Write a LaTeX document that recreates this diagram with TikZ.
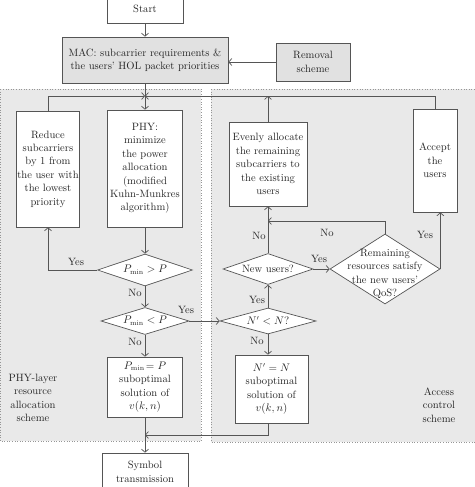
\documentclass[tikz,border=0pt]{standalone}
\usepackage{amsmath}
\usepackage{amssymb}
\usetikzlibrary{shapes.geometric,arrows.meta}
\definecolor{linegray}{RGB}{85,85,85}
\definecolor{regiongray}{RGB}{233,233,233}
\definecolor{macgray}{RGB}{225,225,225}
\definecolor{dotgray}{RGB}{150,150,150}

\begin{document}
\begin{tikzpicture}[x=1pt,y=-1pt,
  every node/.style={font=\fontsize{10.6}{13.4}\selectfont, text=black!85},
  box/.style={draw=linegray, line width=0.7pt, fill=white, align=center, inner sep=1pt},
  decision/.style={diamond, draw=linegray, line width=0.7pt, fill=white, inner sep=0pt, aspect=3},
  region/.style={draw=dotgray, dotted, line width=0.6pt, fill=regiongray},
  arr/.style={-{Straight Barb[length=3pt,width=7pt]}, draw=linegray, line width=0.7pt}]
  \useasboundingbox (0,0) rectangle (474,487);
  \fill[white] (0,0) rectangle (474,487);
  % the two schemes
  \draw[region] (0,89) rectangle (201,441);
  \draw[region] (211,89) rectangle (476,442);
  \node[align=center] (phylabel) at (33,398) {PHY-layer\\resource\\allocation\\scheme};
  \node[align=center] (acclabel) at (439,405) {Access\\control\\scheme};

  \node[box, minimum width=76pt, minimum height=28pt] (start) at (145,9) {Start};
  \node[box, fill=macgray, minimum width=166pt, minimum height=46pt] (mac) at (145,60)
    {MAC: subcarrier requirements \&\\the users' HOL packet priorities};
  \node[box, fill=macgray, minimum width=74pt, minimum height=38pt] (removal) at (313,62)
    {Removal\\scheme};

  \node[box, minimum width=62pt, minimum height=116pt] (reduce) at (48,169)
    {Reduce\\subcarriers\\by 1 from\\the user with\\the lowest\\priority};
  \node[box, minimum width=75pt, minimum height=117pt] (phy) at (145,168.5)
    {PHY:\\minimize\\the power\\allocation\\(modified\\Kuhn-Munkres\\algorithm)};
  \node[decision, minimum width=95pt, minimum height=32pt] (pgt) at (145,270) {$P_{\min}> P$};
  \node[decision, minimum width=88pt, minimum height=27pt] (plt) at (145,321) {$P_{\min}< P$};
  \node[box, minimum width=75pt, minimum height=60pt] (pbox) at (145,387)
    {$P_{\min}\!= P$\\suboptimal\\solution of\\$v(k,n)$};
  \node[box, minimum width=86pt, minimum height=38pt] (symbol) at (145,472)
    {Symbol\\transmission};

  \node[box, minimum width=78pt, minimum height=84pt] (evenly) at (268,164)
    {Evenly allocate\\the remaining\\subcarriers to\\the existing\\users};
  \node[box, minimum width=44pt, minimum height=103pt] (accept) at (435,160.5)
    {Accept\\the\\users};
  \node[decision, minimum width=90pt, minimum height=31pt] (newu) at (268,269) {New users?};
  \node[decision, minimum width=110pt, minimum height=70pt] (rem) at (385,269) {};
  \node[align=center, inner sep=0pt] (remtext) at (385,274)
    {Remaining\\resources satisfy\\the new users'\\QoS?};
  \node[decision, minimum width=96pt, minimum height=26pt] (nlt) at (268,321) {$N' < N?$};
  \node[box, minimum width=73pt, minimum height=68pt] (nbox) at (271.5,389)
    {$N' = N$\\suboptimal\\solution of\\$v(k,n)$};

  \coordinate (jtop) at (145,96);
  \coordinate (jbot) at (145,435);
  \coordinate (jrem) at (268,221);

  \draw[arr] (start) -- (mac);
  \draw[arr] (removal.west) -- (removal.west -| mac.east);
  \draw[arr] (mac) -- (phy);
  \draw[arr] (reduce.north) |- (jtop);
  \draw[arr] (accept.north) |- (jtop);
  \draw[arr] (evenly.north) -- (evenly.north |- jtop);
  \draw[arr] (phy) -- (pgt);
  \draw[arr] (pgt.west) -| (reduce.south);
  \draw[arr] (pgt) -- (plt);
  \draw[arr] (plt.east) -- (nlt.west);
  \draw[arr] (plt) -- (pbox);
  \draw[arr] (pbox) -- (symbol);
  \draw[arr] (nlt.south |- nbox.south) |- (jbot);
  \draw[arr] (nlt) -- (nlt.south |- nbox.north);
  \draw[arr] (nlt) -- (newu);
  \draw[arr] (newu) -- (evenly);
  \draw[arr] (newu.east) -- (rem.west);
  \draw[arr] (rem.north) |- (jrem);
  \draw[arr] (rem.east) -- (rem.east |- accept.south);

  \node (yes1) at (76,262) {Yes};
  \node (no1) at (135,293) {No};
  \node (yes2) at (186,310) {Yes};
  \node (no2) at (135,342) {No};
  \node (yes3) at (257,300) {Yes};
  \node (no3) at (257,341) {No};
  \node (no4) at (259,236) {No};
  \node (no5) at (327,233) {No};
  \node (yes4) at (319,259) {Yes};
  \node (yes5) at (425,235) {Yes};
\end{tikzpicture}
\end{document}
